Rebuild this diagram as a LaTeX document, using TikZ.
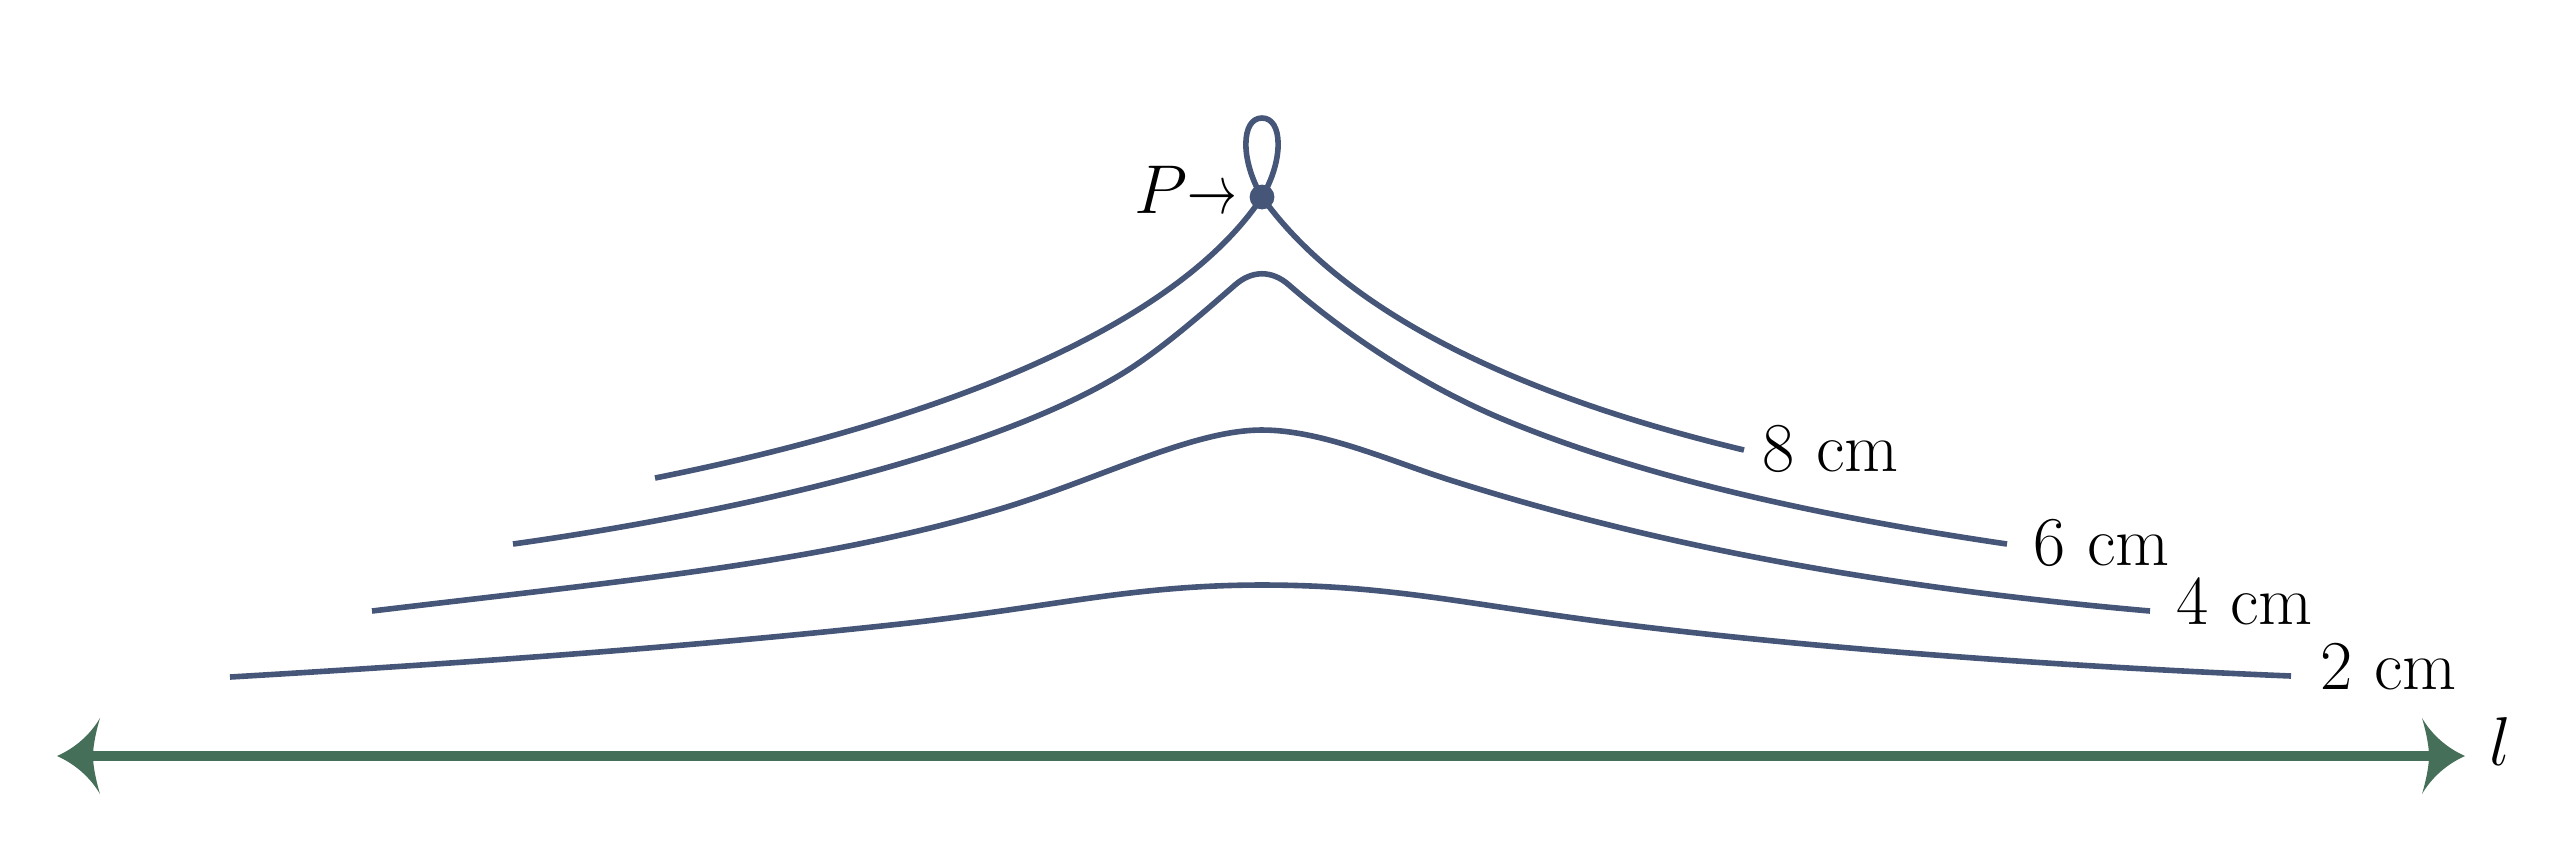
\documentclass[tikz,border=0pt]{standalone}
\usepackage{graphicx}
\definecolor{ropecol}{RGB}{70,86,120}
\definecolor{axiscol}{RGB}{69,111,88}
\begin{document}
\begin{tikzpicture}[x=0.25pt,y=-0.25pt,
  ropeline/.style={draw=ropecol, line width=1.4pt, line join=round},
  lab/.style={anchor=west, inner sep=0pt, font=\fontsize{17.5}{21}\selectfont},
  axisline/.style={draw=axiscol, line width=2.5pt},
  axishead/.style={fill=axiscol}]
\useasboundingbox (0,0) rectangle (2560,851);

\coordinate (P) at (1262,197);
\coordinate (tipL) at (57,756);
\coordinate (tipR) at (2465,756);
\coordinate (axL) at (93,756);
\coordinate (axR) at (2429,756);

% 8 cm rope with loop at P
\draw[ropeline] (655,478) .. controls (955,418) and (1179.5,321.5) .. (P);
\draw[ropeline] (P) .. controls (1337,302) and (1494,390) .. (1744,450);
\draw[ropeline] (P) .. controls (1240,160) and (1241,118) .. (1262,118) .. controls (1283,118) and (1284,160) .. (P);
\fill[ropecol] (P) circle[radius=3.1pt];

% 6 cm
\draw[ropeline] (513,544) .. controls (713,516) and (980,459) .. (1120,375)
  .. controls (1160,351) and (1205,311) .. (1235,285)
  .. controls (1252,270) and (1272,270) .. (1289,285)
  .. controls (1344,333) and (1420,384) .. (1500,418)
  .. controls (1650,481) and (1837,519) .. (2007,544);
% 4 cm
\draw[ropeline] (372,611) .. controls (622,581) and (820,563) .. (1000,509)
  .. controls (1100,479) and (1192,430) .. (1262,430)
  .. controls (1322,430) and (1390,461) .. (1450,480)
  .. controls (1670,550) and (1900,589) .. (2150,611);
% 2 cm
\draw[ropeline] (230,677) .. controls (450,664) and (680,648) .. (900,624)
  .. controls (1050,607.5) and (1132,585) .. (1262,585)
  .. controls (1392,585) and (1470,605) .. (1620,624)
  .. controls (1820,649) and (2071,667) .. (2291,676);

% labels
\node[lab] (l8) at (1762,449) {8 cm};
\node[lab] (l6) at (2033,543) {6 cm};
\node[lab] (l4) at (2176,601) {4 cm};
\node[lab] (l2) at (2320,667) {2 cm};
\node[anchor=base east, inner sep=0pt, font=\fontsize{16.5}{20}\selectfont] (pl) at (1238,213) {$P\scalebox{0.72}[1]{$\rightarrow$}$};

% axis with concave arrowheads
\draw[axisline] (axL) -- (axR);
\fill[axishead] (tipR) .. controls (2447,748) and (2432,735) .. (2422,718)
  .. controls (2427,735) and (2429,748) .. (2429,756)
  .. controls (2429,764) and (2427,777) .. (2422,794)
  .. controls (2432,777) and (2447,764) .. (tipR) -- cycle;
\fill[axishead] (tipL) .. controls (75,748) and (90,735) .. (100,718)
  .. controls (95,735) and (93,748) .. (93,756)
  .. controls (93,764) and (95,777) .. (100,794)
  .. controls (90,777) and (75,764) .. (tipL) -- cycle;
\node[anchor=base, inner sep=0pt, font=\fontsize{17}{20}\selectfont] (ll) at (2500,765) {$l$};
\end{tikzpicture}
\end{document}
